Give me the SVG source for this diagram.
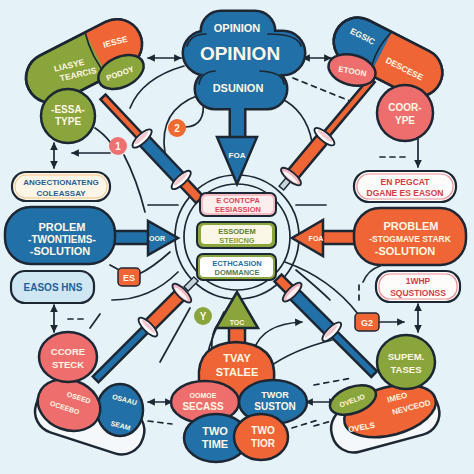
<svg xmlns="http://www.w3.org/2000/svg" width="474" height="474" viewBox="0 0 474 474">
<defs>
<style>
.ln{fill:none;stroke:#1c2733;stroke-width:1.7;stroke-linecap:round}
.dash{stroke-dasharray:5 5}
.ol{stroke:#1c2733;stroke-width:2.5}
.t{font-family:'Liberation Sans',Arial,sans-serif;font-weight:bold;text-anchor:middle}
.cw{fill:#fff8e4}
.blue{fill:#2270a8}
.orng{fill:#ef6535}
.pink{fill:#ee6e6e}
.grn{fill:#8aa53b}
</style>
<marker id="ah" viewBox="0 0 10 10" refX="9" refY="5" markerWidth="4.5" markerHeight="4.5" orient="auto-start-reverse"><path d="M0,0 L10,5 L0,10 Z" fill="#1c2733"/></marker>
<g id="capW"><ellipse rx="4.5" ry="12.5" fill="#fdfdfd" stroke="#1c2733" stroke-width="1.8"/><ellipse cx="-1" rx="2" ry="9" fill="#f3c9cf"/></g>
<g id="capP"><ellipse rx="4.5" ry="12.5" fill="#f3b7c0" stroke="#1c2733" stroke-width="1.8"/><ellipse cx="1" rx="2" ry="9" fill="#fdf3f4"/></g>
</defs>
<rect width="474" height="474" fill="#e5f3f9"/>

<g id="connectors">
<path class="ln" d="M95,128 Q104,134 110,142"/>
<path class="ln" d="M110,153 L72,153" marker-end="url(#ah)"/>
<path class="ln" d="M124,155 Q137,180 145,212"/>
<path class="ln" d="M130,108 Q142,78 184,66"/>
<path class="ln" d="M186,127 Q206,126 203,100"/>
<path class="ln" d="M165,153 Q158,110 199,95"/>
<path class="ln" d="M280,98 Q306,110 312,142"/>
<path class="ln dash" d="M293,78 L350,101"/>
<path class="ln" d="M148,58 L181,58" marker-start="url(#ah)" marker-end="url(#ah)"/>
<path class="ln" d="M303,58 L331,58" marker-start="url(#ah)" marker-end="url(#ah)"/>
<path class="ln dash" d="M380,157 L406,157"/>
<path class="ln" d="M54,143 L54,168" marker-start="url(#ah)" marker-end="url(#ah)"/>
<path class="ln" d="M54,305 L54,332" marker-start="url(#ah)" marker-end="url(#ah)"/>
<path class="ln" d="M418,138 L418,167" marker-end="url(#ah)"/>
<path class="ln" d="M418,304 L418,332" marker-start="url(#ah)" marker-end="url(#ah)"/>
<path class="ln" d="M110,265 L121,271"/>
<path class="ln" d="M139,274 Q152,268 170,252"/>
<path class="ln" d="M148,205 L178,205"/>
<path class="ln" d="M112,300 Q150,300 178,272"/>
<path class="ln" d="M379,322 L404,322" marker-end="url(#ah)"/>
<path class="ln" d="M285,262 Q330,278 358,314"/>
<path class="ln dash" d="M359,285 L359,303"/>
<path class="ln" d="M363,282 Q368,270 380,266"/>
<path class="ln" d="M212,352 Q210,324 226,320"/>
<path class="ln" d="M254,350 Q262,324 302,322" marker-end="url(#ah)"/>
<path class="ln" d="M268,368 Q292,350 332,340"/>
<path class="ln" d="M148,402 L172,402" marker-start="url(#ah)" marker-end="url(#ah)"/>
<path class="ln" d="M306,402 L336,402" marker-start="url(#ah)" marker-end="url(#ah)"/>
<path class="ln dash" d="M148,421 L172,424"/>
<path class="ln dash" d="M292,428 L318,420"/>
<path class="ln dash" d="M314,385 L352,378"/>
<path class="ln dash" d="M314,426 L342,418"/>
<path class="ln dash" d="M68,319 L84,319"/>
<path class="ln" d="M90,328 L100,314"/>
<path class="ln" d="M190,308 L160,362"/>
<path class="ln" d="M224,312 Q212,335 207,356"/>
<path class="ln" d="M296,205 L326,205"/>
<path class="ln" d="M296,270 Q320,290 330,300"/>
<circle class="ln" cx="237" cy="237" r="62"/>
<circle class="ln" cx="237" cy="237" r="53"/>
</g>

<g id="pen-tl" transform="translate(103,97) rotate(46.7)">
<rect x="0" y="-3.5" width="54" height="7" class="orng ol" stroke-width="1.6"/>
<rect x="60" y="-6.5" width="51" height="13" class="blue ol" stroke-width="1.8"/>
<rect x="117" y="-5" width="24" height="10" class="orng ol" stroke-width="1.6"/>
<use href="#capW" x="57"/><use href="#capW" x="114"/>
</g>
<g id="pen-tr" transform="translate(372,80) rotate(130)">
<rect x="0" y="-3.5" width="70" height="7" class="orng ol" stroke-width="1.6"/>
<rect x="78" y="-6.5" width="45" height="13" class="orng ol" stroke-width="1.8"/>
<rect x="129" y="-3" width="12" height="6" fill="#c9d4da" stroke="#1c2733" stroke-width="1.4"/>
<use href="#capW" x="74"/><use href="#capP" x="126"/>
</g>
<g id="pen-bl" transform="translate(196,279) rotate(135)">
<rect x="0" y="-3" width="14" height="6" fill="#c9d4da" stroke="#1c2733" stroke-width="1.4"/>
<rect x="23" y="-6.5" width="42" height="13" class="orng ol" stroke-width="1.8"/>
<rect x="72" y="-4" width="70" height="8" class="blue ol" stroke-width="1.6"/>
<use href="#capP" x="20"/><use href="#capW" x="68"/>
</g>
<g id="pen-br" transform="translate(278,278) rotate(45)">
<rect x="0" y="-5" width="17" height="10" class="orng ol" stroke-width="1.6"/>
<rect x="23" y="-6.5" width="50" height="13" class="blue ol" stroke-width="1.8"/>
<rect x="80" y="-4" width="56" height="8" class="blue ol" stroke-width="1.6"/>
<use href="#capP" x="20"/><use href="#capW" x="76"/>
</g>

<g id="opinion">
<g fill="#1c2733" stroke="#1c2733" stroke-width="5">
<rect x="202" y="12" width="72" height="38" rx="19"/>
<rect x="184" y="32" width="120" height="42" rx="21"/>
<rect x="196" y="70" width="90" height="38" rx="19"/>
<rect x="231" y="100" width="13" height="40"/>
</g>
<g class="blue">
<rect x="202" y="12" width="72" height="38" rx="19"/>
<rect x="184" y="32" width="120" height="42" rx="21"/>
<rect x="196" y="70" width="90" height="38" rx="19"/>
<rect x="231" y="100" width="13" height="40"/>
</g>
<path class="ln" d="M187,46 Q191,34 206,34 M268,34 Q298,34 301,46 M199,84 Q201,72 215,71 M260,71 Q283,72 284,84"/>
<polygon points="217,137 257,137 237,184" class="blue ol" stroke-width="2"/>
<text class="t cw" x="237" y="32" font-size="11">OPINION</text>
<text class="t cw" x="240" y="60" font-size="19">OPINION</text>
<text class="t cw" x="238" y="92" font-size="11">DSUNION</text>
<text class="t cw" x="237" y="158" font-size="8">FOA</text>
</g>

<g id="arrow-left">
<rect x="113" y="231" width="38" height="13" class="blue ol" stroke-width="2"/>
<polygon points="148,221 148,255 178,238" class="blue ol" stroke-width="2"/>
<text class="t cw" x="157" y="241" font-size="7">OOR</text>
</g>
<g id="arrow-right">
<rect x="320" y="231" width="36" height="13" class="orng ol" stroke-width="2"/>
<polygon points="323,220 323,256 292,238" class="orng ol" stroke-width="2"/>
<text class="t cw" x="316" y="241" font-size="7">FOA</text>
</g>
<g id="arrow-bottom">
<rect x="229" y="326" width="16" height="24" class="orng ol" stroke-width="2"/>
<polygon points="237,292 216,328 258,328" class="grn ol" stroke-width="2"/>
<text class="t cw" x="237" y="325" font-size="7">TOC</text>
</g>

<g id="tl-capsule" transform="translate(84,61) rotate(-27)">
<clipPath id="cl1"><rect x="-62" y="-25" width="124" height="50" rx="25"/></clipPath>
<rect x="-62" y="-25" width="124" height="50" rx="25" class="grn ol"/>
<rect x="14" y="-30" width="52" height="60" class="orng" clip-path="url(#cl1)"/>
<path d="M14,-25 Q8,0 14,25" class="ln"/>
<rect x="-62" y="-25" width="124" height="50" rx="25" fill="none" class="ol"/>
<text class="t cw" x="-16" y="0" font-size="8.5" transform="rotate(14 -16 0)">LIASYE</text>
<text class="t cw" x="-12" y="12" font-size="8.5" transform="rotate(14 -12 12)">TEARCIS</text>
<text class="t cw" x="36" y="0" font-size="8.5" transform="rotate(12 36 0)">IESSE</text>
</g>
<g id="podoy">
<ellipse cx="121" cy="72" rx="24" ry="15" transform="rotate(-25 121 72)" class="grn ol"/>
<text class="t cw" x="121" y="76" font-size="8" transform="rotate(-20 121 76)">PODOY</text>
</g>
<g id="essa-type">
<circle cx="68" cy="116" r="27" class="grn ol"/>
<text class="t cw" x="68" y="113" font-size="10">-ESSA-</text>
<text class="t cw" x="68" y="125" font-size="10">TYPE</text>
</g>

<g id="tr-capsule" transform="translate(388,57) rotate(27)">
<clipPath id="cl2"><rect x="-58" y="-24" width="116" height="48" rx="24"/></clipPath>
<rect x="-58" y="-24" width="116" height="48" rx="24" class="blue ol"/>
<rect x="-8" y="-30" width="70" height="60" class="orng" clip-path="url(#cl2)"/>
<path d="M-8,-24 Q-16,0 -8,24" class="ln"/>
<rect x="-58" y="-24" width="116" height="48" rx="24" fill="none" class="ol"/>
<text class="t cw" x="-32" y="-4" font-size="8.5">EGSIC</text>
<text class="t cw" x="20" y="6" font-size="8.5">DESCESE</text>
</g>
<g id="etoon">
<ellipse cx="352" cy="70" rx="24" ry="15" transform="rotate(15 352 70)" class="pink ol"/>
<text class="t cw" x="352" y="74" font-size="8" transform="rotate(10 352 74)">ETOON</text>
</g>
<g id="coor-ype">
<circle cx="405" cy="113" r="28" class="pink ol"/>
<text class="t cw" x="405" y="111" font-size="10">COOR-</text>
<text class="t cw" x="405" y="124" font-size="10">YPE</text>
</g>

<g id="box-angection">
<rect x="12" y="172" width="98" height="29" rx="14" fill="#fdf6e6" stroke="#1c2733" stroke-width="2.2"/>
<rect x="15" y="175" width="92" height="23" rx="11" fill="none" stroke="#f2c38a" stroke-width="1"/>
<text class="t" x="61" y="185" font-size="8" fill="#1f5f96">ANGECTIONATENG</text>
<text class="t" x="61" y="196" font-size="8" fill="#1f5f96">COLEASSAY</text>
</g>
<g id="box-prolem">
<rect x="5" y="207" width="110" height="57" rx="26" class="blue ol"/>
<text class="t cw" x="62" y="231" font-size="11">PROLEM</text>
<text class="t cw" x="62" y="243" font-size="10">-TWONTIEMS-</text>
<text class="t cw" x="60" y="255" font-size="11">-SOLUTION</text>
</g>
<g id="box-easos">
<rect x="11" y="271" width="83" height="32" rx="14" fill="#cfe6f3" stroke="#1c2733" stroke-width="2.2"/>
<text class="t" x="53" y="291" font-size="10" fill="#1f5f96">EASOS HNS</text>
</g>

<g id="box-pegcat">
<rect x="354" y="171" width="102" height="31" rx="15" fill="#fefcfb" stroke="#1c2733" stroke-width="2.2"/>
<rect x="357" y="174" width="96" height="25" rx="12" fill="none" stroke="#ee8e96" stroke-width="1.2"/>
<text class="t" x="405" y="185" font-size="8.5" fill="#d43c45">EN PEGCAT</text>
<text class="t" x="405" y="196" font-size="8.5" fill="#d43c45">DGANE ES EASON</text>
</g>
<g id="box-problem">
<rect x="354" y="208" width="112" height="57" rx="26" class="orng ol"/>
<text class="t cw" x="411" y="230" font-size="11">PROBLEM</text>
<text class="t cw" x="410" y="242" font-size="8.5">-STOGMAVE STARK</text>
<text class="t cw" x="405" y="255" font-size="11">-SOLUTION</text>
</g>
<g id="box-1whp">
<rect x="376" y="271" width="84" height="31" rx="14" fill="#fefcfb" stroke="#1c2733" stroke-width="2.2"/>
<rect x="379" y="274" width="78" height="25" rx="11" fill="none" stroke="#ee8e96" stroke-width="1.2"/>
<text class="t" x="418" y="284" font-size="8.5" fill="#d43c45">1WHP</text>
<text class="t" x="418" y="296" font-size="8.5" fill="#d43c45">SQUSTIONSS</text>
</g>

<g id="center-1">
<rect x="200" y="193" width="76" height="23" rx="6" fill="#f6bcc3" stroke="#1c2733" stroke-width="2"/>
<rect x="203" y="196" width="70" height="17" rx="4" fill="#fdeeee"/>
<text class="t" x="238" y="203" font-size="7.5" fill="#d9475a">E CONTCPA</text>
<text class="t" x="238" y="212" font-size="7.5" fill="#d9475a">EESIASSION</text>
</g>
<g id="center-2">
<rect x="197" y="222" width="79" height="26" rx="6" class="grn" stroke="#1c2733" stroke-width="2"/>
<rect x="201" y="225" width="71" height="19" rx="4" fill="#fbf7e6"/>
<text class="t" x="237" y="234" font-size="7.5" fill="#5f7f26">ESSODEM</text>
<text class="t" x="237" y="243" font-size="7.5" fill="#7d9c34">STEIICNG</text>
</g>
<g id="center-3">
<rect x="197" y="254" width="79" height="26" rx="6" class="grn" stroke="#1c2733" stroke-width="2"/>
<rect x="200" y="257" width="73" height="20" rx="4" fill="#ffffff"/>
<text class="t" x="237" y="266" font-size="7.5" fill="#2270a8">ECTHCASION</text>
<text class="t" x="237" y="275" font-size="7.5" fill="#4f7a5a">DOMMANCE</text>
</g>

<g id="tvay">
<path d="M199,380 Q196,344 236,342 Q277,344 274,380 Q270,398 236,398 Q203,398 199,380 Z" class="orng ol"/>
<text class="t cw" x="237" y="362" font-size="11">TVAY</text>
<text class="t cw" x="237" y="376" font-size="11">STALEE</text>
</g>
<g id="oomoe">
<ellipse cx="205" cy="402" rx="34" ry="21" class="pink ol"/>
<text class="t cw" x="203" y="398" font-size="7">OOMOE</text>
<text class="t cw" x="203" y="410" font-size="10">SECASS</text>
</g>
<g id="twor">
<ellipse cx="273" cy="402" rx="34" ry="22" class="blue ol"/>
<text class="t cw" x="275" y="398" font-size="9">TWOR</text>
<text class="t cw" x="275" y="410" font-size="10">SUSTON</text>
</g>
<g id="two-time">
<ellipse cx="216" cy="438" rx="32" ry="24" class="blue ol"/>
<text class="t cw" x="215" y="435" font-size="11">TWO</text>
<text class="t cw" x="215" y="448" font-size="11">TIME</text>
</g>
<g id="two-tior">
<ellipse cx="261" cy="437" rx="27" ry="23" class="orng ol"/>
<text class="t cw" x="263" y="434" font-size="10">TWO</text>
<text class="t cw" x="263" y="447" font-size="10">TIOR</text>
</g>

<g id="bl-tray">
<rect x="-56" y="-22" width="112" height="46" rx="22" transform="translate(90,420) rotate(18)" fill="#f4f8fa" class="ol"/>
<ellipse cx="120" cy="410" rx="23" ry="26" class="blue ol"/>
<ellipse cx="69" cy="405" rx="32" ry="25" transform="rotate(20 69 405)" class="pink ol"/>
<text class="t cw" x="78" y="400" font-size="7" transform="rotate(18 78 400)">OSEED</text>
<text class="t cw" x="64" y="410" font-size="7" transform="rotate(18 64 410)">OCEEBO</text>
<text class="t cw" x="124" y="402" font-size="7" transform="rotate(15 124 402)">OSAAU</text>
<text class="t cw" x="120" y="428" font-size="7" transform="rotate(15 120 428)">SEAM</text>
</g>
<g id="ccore">
<ellipse cx="68" cy="357" rx="29" ry="25" class="pink ol"/>
<text class="t cw" x="68" y="355" font-size="9.5">CCORE</text>
<text class="t cw" x="68" y="368" font-size="9.5">STECK</text>
</g>

<g id="br-tray">
<rect x="-55" y="-22" width="110" height="46" rx="22" transform="translate(385,420) rotate(-15)" fill="#f4f8fa" class="ol"/>
<ellipse cx="390" cy="411" rx="47" ry="24" transform="rotate(-15 390 411)" class="orng ol"/>
<ellipse cx="353" cy="400" rx="24" ry="13" transform="rotate(-20 353 400)" class="grn ol"/>
<text class="t cw" x="353" y="403" font-size="7" transform="rotate(-20 353 403)">OVELIO</text>
<text class="t cw" x="398" y="400" font-size="8" transform="rotate(-15 398 400)">IMEO</text>
<text class="t cw" x="412" y="410" font-size="8" transform="rotate(-15 412 410)">NEVCEOD</text>
<text class="t cw" x="362" y="430" font-size="8" transform="rotate(-10 362 430)">OVELS</text>
</g>
<g id="supem">
<ellipse cx="406" cy="362" rx="29" ry="27" class="grn ol"/>
<text class="t cw" x="406" y="360" font-size="9.5">SUPEM.</text>
<text class="t cw" x="406" y="373" font-size="9.5">TASES</text>
</g>

<g id="badges">
<circle cx="118" cy="146" r="9" fill="#ee7070"/>
<text class="t cw" x="118" y="150" font-size="10">1</text>
<circle cx="177" cy="128" r="9" fill="#ef6a30"/>
<text class="t cw" x="177" y="132" font-size="10">2</text>
<rect x="118" y="268" width="22" height="18" rx="4" fill="#ef6535" stroke="#1c2733" stroke-width="1.5"/>
<text class="t cw" x="129" y="281" font-size="9">ES</text>
<circle cx="203" cy="316" r="9" fill="#8aa53b"/>
<text class="t cw" x="203" y="320" font-size="10">Y</text>
<rect x="355" y="313" width="24" height="18" rx="4" fill="#ef6535" stroke="#1c2733" stroke-width="1.5"/>
<text class="t cw" x="367" y="326" font-size="9">G2</text>
</g>
</svg>
